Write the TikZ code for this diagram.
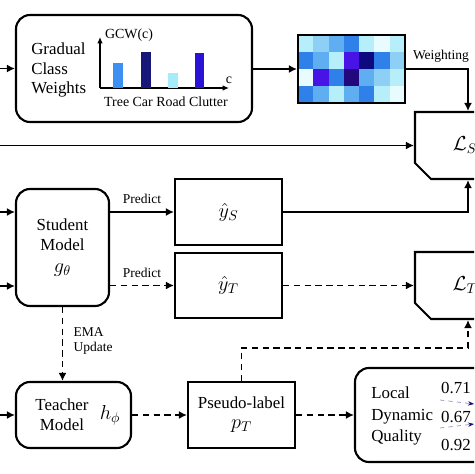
\documentclass[tikz,border=0pt]{standalone}
\usepackage{amsmath,amssymb}
\usepackage{fontspec}
\setmainfont{Liberation Serif}
\usetikzlibrary{arrows.meta,shapes.misc}
% heat map and bar colours
\definecolor{hA}{HTML}{E8FBFF}
\definecolor{hB}{HTML}{B6EEFA}
\definecolor{hC}{HTML}{8ED0F5}
\definecolor{hD}{HTML}{5EAEF1}
\definecolor{hE}{HTML}{2F80E8}
\definecolor{hF}{HTML}{4814E6}
\definecolor{hG}{HTML}{0C0A7E}
\definecolor{hH}{HTML}{22087C}
\definecolor{barTree}{HTML}{3D8FF2}
\definecolor{barCar}{HTML}{17177A}
\definecolor{barRoad}{HTML}{A4ECFA}
\definecolor{barClutter}{HTML}{2A12D6}
\definecolor{ldqline}{HTML}{9090C0}

\begin{document}
\begin{tikzpicture}[x=0.25mm,y=-0.25mm,
  box/.style={draw,line width=1.5pt,inner sep=0pt,align=center,font=\fontsize{12}{14.2}\selectfont},
  rbox/.style={box,rounded corners=3.5mm},
  lossbox/.style={box,chamfered rectangle,chamfered rectangle corners=south west,chamfered rectangle sep=2mm,font=\fontsize{14}{16}\selectfont},
  txt/.style={inner sep=0pt,font=\fontsize{12}{14.2}\selectfont},
  lbl/.style={inner sep=1pt,font=\fontsize{9.6}{11.3}\selectfont},
  >={Latex[length=2mm,width=2mm]},
  flow/.style={->,line width=1.3pt},
  pflow/.style={flow,dash pattern=on 1.6mm off 1.1mm},
]
  \useasboundingbox (0,0) rectangle (474,474);
  \clip (0,0) rectangle (474,474);

  % gradual class weights
  \node[rbox,minimum width=59mm,minimum height=26.75mm] (gcw) at (134,68.5) {};
  \node[txt,anchor=west,align=left] (gcwtxt) at (31,70) {Gradual\\Class\\Weights};
  \coordinate (org) at (100,88);
  \draw[->,line width=1pt,>={Latex[length=1.6mm,width=1.4mm]}] (org) -- (100,37);
  \draw[->,line width=1pt,>={Latex[length=1.6mm,width=1.4mm]}] (org) -- (229,88);
  \fill[barTree] (113,88) rectangle (123,63);
  \fill[barCar] (141,88) rectangle (151,52);
  \fill[barRoad] (168,88) rectangle (178,73);
  \fill[barClutter] (195,88) rectangle (204,53);
  \node[lbl,font=\fontsize{9.9}{11}\selectfont] (gcwaxis) at (129,35) {GCW(c)};
  \node[lbl,font=\fontsize{9.9}{11}\selectfont] (caxis) at (229,80) {c};
  \node[lbl,font=\fontsize{9.9}{11}\selectfont] (classes) at (166,102) {Tree Car Road Clutter};

  % weight map
  \foreach \row [count=\r from 0] in {{hB,hC,hD,hE,hB,hA,hB},{hE,hD,hB,hF,hG,hE,hC},{hA,hF,hE,hH,hD,hC,hB},{hE,hD,hB,hD,hE,hB,hA}}{
    \foreach \col [count=\c from 0] in \row {
      \fill[\col] (298+\c*15.286,35+\r*17) rectangle ++(15.286,17);
    }
  }
  \node[draw,line width=1.5pt,inner sep=0pt,minimum width=26.75mm,minimum height=17mm] (heat) at (351.5,69) {};

  % boxes
  \node[lossbox,minimum width=25mm,minimum height=16.75mm] (ls) at (465,145.5) {$\mathcal{L}_S$};
  \node[lossbox,minimum width=25mm,minimum height=16.75mm] (lt) at (465,285.5) {$\mathcal{L}_T$};
  \node[rbox,minimum width=23.25mm,minimum height=29.25mm] (student) at (62.5,247.5) {Student\\Model\\[0.5mm]{\fontsize{14}{16}\selectfont$g_\theta$}};
  \node[box,minimum width=26.75mm,minimum height=16.5mm,font=\fontsize{14}{16}\selectfont] (ys) at (228.5,212) {$\hat{y}_S$};
  \node[box,minimum width=26.75mm,minimum height=16.25mm,font=\fontsize{14}{16}\selectfont] (yt) at (228.5,285.5) {$\hat{y}_T$};
  \node[rbox,minimum width=28.75mm,minimum height=16.5mm] (teacher) at (73.5,415) {};
  \node[txt,align=center] (teachertxt) at (62,415) {Teacher\\Model};
  \node[txt,font=\fontsize{14}{16}\selectfont] (hphi) at (110,415) {$h_\phi$};
  \node[box,minimum width=26.75mm,minimum height=16.5mm] (pseudo) at (241.5,415) {Pseudo-label\\{\fontsize{14}{16}\selectfont$p_T$}};
  \node[rbox,minimum width=43.75mm,minimum height=23.5mm] (ldq) at (442.5,415) {};
  \node[txt,anchor=west,align=left,font=\fontsize{12}{15}\selectfont] (ldqtxt) at (371,416) {Local\\Dynamic\\Quality};
  \node[txt] (q1) at (456,388) {0.71};
  \node[txt] (q2) at (456,417) {0.67};
  \node[txt] (q3) at (456,445) {0.92};
  \coordinate (q1a) at (440,400);
  \coordinate (q1b) at (474,404);
  \coordinate (q2a) at (440,428);
  \coordinate (q2b) at (474,424);
  \draw[ldqline,line width=0.5pt,dashed,-{Stealth[length=1.5mm,color=barCar]}] (q1a) -- (q1b);
  \draw[ldqline,line width=0.5pt,dashed,-{Stealth[length=1.5mm,color=barCar]}] (q2a) -- (q2b);

  % inputs from the left
  \coordinate (in1) at (0,68.5);
  \coordinate (in2) at (0,145.5);
  \coordinate (in3) at (0,212);
  \coordinate (in4) at (0,286);
  \coordinate (in5) at (0,415);
  \coordinate (rx) at (468,0);
  \coordinate (ly) at (0,348);

  \path[flow]
  (in1) edge (gcw.west)
  (in2) edge (ls.west)
  (in3) edge (in3 -| student.west)
  (in4) edge (in4 -| student.west)
  (in5) edge (teacher.west)
  (gcw.east |- heat.west) edge (heat.west)
  (ys.west -| student.east) edge node[lbl,above=1.5mm]{Predict} (ys.west)
  ;
  \path[pflow]
  (yt.west -| student.east) edge node[lbl,above=1.5mm]{Predict} (yt.west)
  (yt.east) edge (lt.west)
  (student.south) edge (student.south |- teacher.north)
  (teacher.east) edge (pseudo.west)
  (pseudo.east) edge (ldq.west)
  ;
  \node[lbl,anchor=west,align=left] (ema) at (72,341) {EMA\\Update};
  \node[lbl] (wlbl) at (441,56) {Weighting};
  \draw[flow] (heat.east) -| (rx |- ls.north);
  \draw[flow] (ys.east) -| (rx |- ls.south);
  \draw[pflow] (pseudo.north) |- (rx |- ly) -- (rx |- lt.south);
\end{tikzpicture}
\end{document}
